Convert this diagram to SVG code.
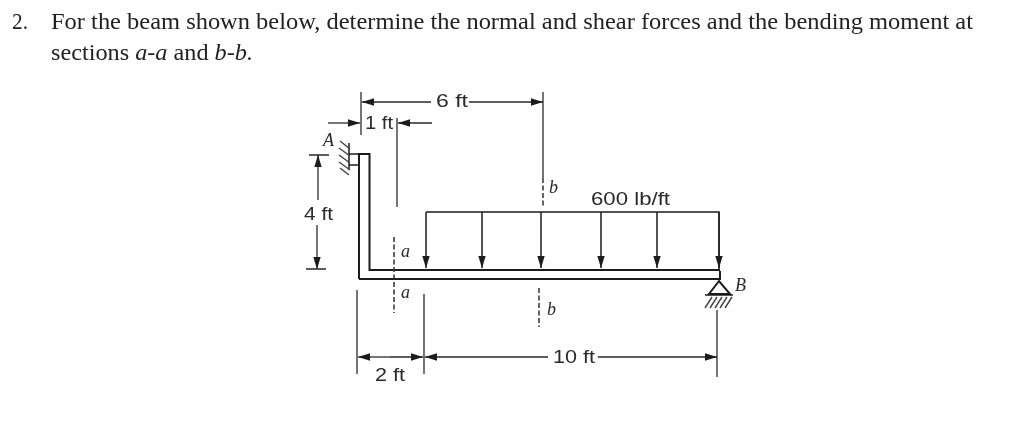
<svg xmlns="http://www.w3.org/2000/svg" width="1024" height="431" viewBox="0 0 1024 431">
<style>
.q{font-family:"Liberation Serif","Times New Roman",serif;font-size:24px;fill:#222}
.d{font-family:"Liberation Sans","DejaVu Sans",sans-serif;font-size:17.500px;fill:#2a2a2a}
.i{font-family:"Liberation Serif",serif;font-style:italic;font-size:18px;fill:#2a2a2a}
.l{stroke:#1c1c1c;stroke-width:1.5;fill:none}
.t{stroke:#2a2a2a;stroke-width:1.3;fill:none}
.b{stroke:#1c1c1c;stroke-width:2;fill:none}
.s{stroke:#333;stroke-width:1.5;fill:none;stroke-dasharray:5 2.5}
.h{stroke:#444;stroke-width:1.4;fill:none}
</style>
<defs>
<marker id="ah" markerUnits="userSpaceOnUse" markerWidth="14" markerHeight="10" refX="12" refY="4" orient="auto"><path d="M0 0.300L12 4L0 7.700Z" fill="#1c1c1c"/></marker>
<filter id="soft" x="0" y="0" width="100%" height="100%"><feGaussianBlur stdDeviation="0.4"/></filter>
</defs>
<rect width="1024" height="431" fill="#fff"/>
<g filter="url(#soft)">
<g id="question">
<text class="q" x="12" y="29" textLength="16" lengthAdjust="spacingAndGlyphs">2.</text>
<text class="q" x="51" y="29" textLength="922" lengthAdjust="spacingAndGlyphs">For the beam shown below, determine the normal and shear forces and the bending moment at</text>
<text class="q" x="51" y="60" textLength="202" lengthAdjust="spacingAndGlyphs">sections <tspan font-style="italic">a-a</tspan> and <tspan font-style="italic">b-b.</tspan></text>
</g>
<g id="beam">
<path class="b" d="M359 279V154H369.500V270H720"/>
<path class="b" d="M359 279H720V271"/>
</g>
<g id="wall-support">
<path class="l" d="M349 143V170M349 154H359M349 165H359"/>
<path class="h" d="M340 141L350 149M339 148L350 156M339 155L350 163M339 162L350 170M340 168L349 175"/>
<text class="i" x="323" y="146">A</text>
</g>
<g id="pin-support">
<path class="b" d="M719 281L709 294H730Z"/>
<path class="l" d="M705 295H733"/>
<path class="h" d="M705 308L712 297M710 308L717 297M715 308L722 297M720 308L727 297M725 308L732 297"/>
<text class="i" x="735" y="291" font-size="16">B</text>
</g>
<g id="load">
<path class="l" d="M426 212H719V270"/>
<text class="d" x="591" y="205" textLength="79" lengthAdjust="spacingAndGlyphs">600 lb/ft</text>
</g>
<g id="connectors">
<path class="l" marker-end="url(#ah)" d="M426 212V268"/>
<path class="l" marker-end="url(#ah)" d="M482 212V268"/>
<path class="l" marker-end="url(#ah)" d="M541 212V268"/>
<path class="l" marker-end="url(#ah)" d="M601 212V268"/>
<path class="l" marker-end="url(#ah)" d="M657 212V268"/>
<path class="l" marker-end="url(#ah)" d="M719 212V268"/>
</g>
<g id="dim-6ft">
<path class="t" d="M361 92V135M543 92V178"/>
<path class="t" marker-end="url(#ah)" d="M431 102H362"/>
<path class="t" marker-end="url(#ah)" d="M469 102H543"/>
<text class="d" x="436" y="107" textLength="32" lengthAdjust="spacingAndGlyphs">6 ft</text>
</g>
<g id="dim-1ft">
<path class="t" d="M397 118V207"/>
<path class="t" marker-end="url(#ah)" d="M328 123H360"/>
<path class="t" marker-end="url(#ah)" d="M432 123H398"/>
<text class="d" x="365" y="129" textLength="28" lengthAdjust="spacingAndGlyphs">1 ft</text>
</g>
<g id="dim-4ft">
<path class="t" d="M309 155H329M306 269H326"/>
<path class="t" marker-end="url(#ah)" d="M318 200V155"/>
<path class="t" marker-end="url(#ah)" d="M317 225V269"/>
<text class="d" x="304" y="220" textLength="29" lengthAdjust="spacingAndGlyphs">4 ft</text>
</g>
<g id="dim-2ft">
<path class="t" d="M357 290V374M424 294V374"/>
<path class="t" marker-end="url(#ah)" d="M390 357H358"/>
<path class="t" marker-end="url(#ah)" d="M390 357H423"/>
<text class="d" x="375" y="381" textLength="30" lengthAdjust="spacingAndGlyphs">2 ft</text>
</g>
<g id="dim-10ft">
<path class="t" d="M717 310V377"/>
<path class="t" marker-end="url(#ah)" d="M548 357H425"/>
<path class="t" marker-end="url(#ah)" d="M598 357H717"/>
<text class="d" x="553" y="363" textLength="42" lengthAdjust="spacingAndGlyphs">10 ft</text>
</g>
<g id="section-a">
<path class="s" d="M394 237V313"/>
<text class="i" x="401" y="257">a</text>
<text class="i" x="401" y="298">a</text>
</g>
<g id="section-b">
<path class="s" d="M543 178V206M539 288V327"/>
<text class="i" x="549" y="193">b</text>
<text class="i" x="547" y="315">b</text>
</g>
</g>
</svg>
